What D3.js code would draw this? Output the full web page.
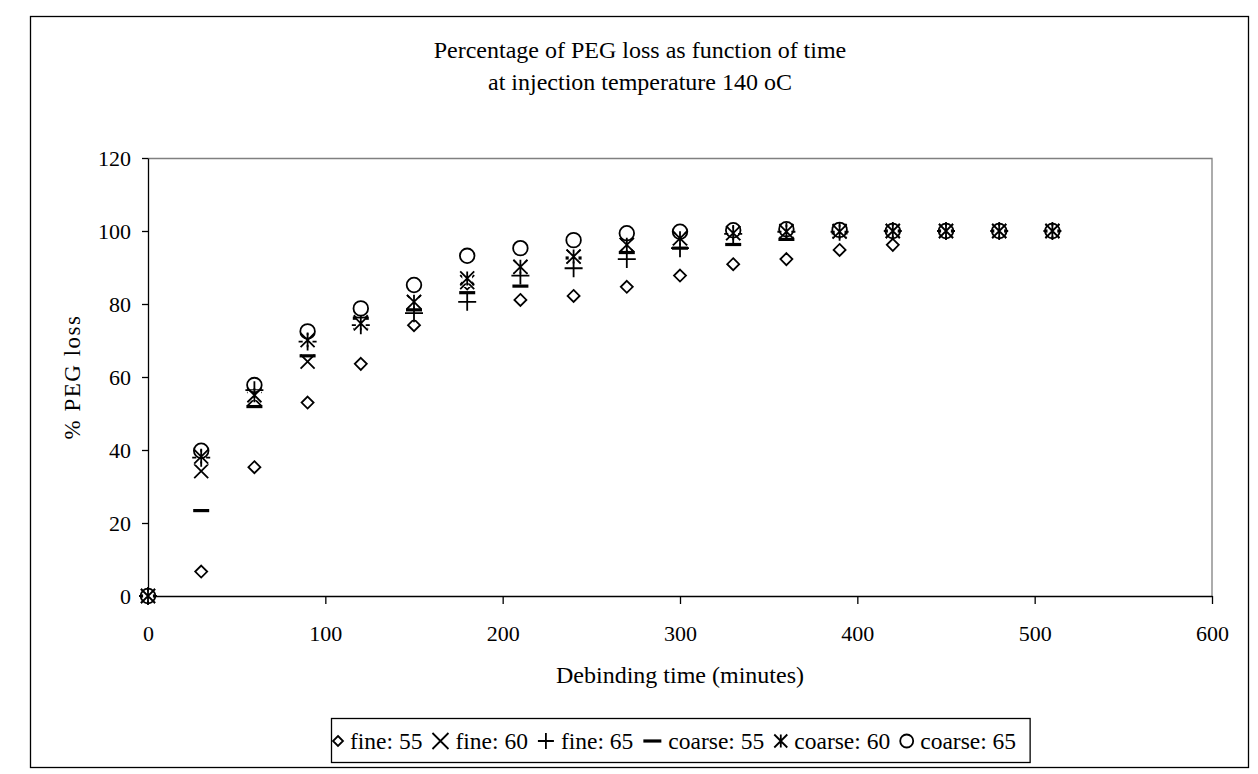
<!DOCTYPE html>
<html>
<head>
<meta charset="utf-8">
<script src="https://cdn.jsdelivr.net/npm/d3@7"></script>
<style>
body { margin: 0; background: #fff; }
text { font-family: "Liberation Serif", "Times New Roman", serif; fill: #000; }
</style>
</head>
<body>
<svg></svg>
<script>
// ----- Data ----- //
var times    = [0, 30, 60, 90, 120, 150, 180, 210, 240, 270, 300, 330, 360, 390, 420, 450, 480, 510];
var fine55   = [0, 6.7, 35.3, 53.0, 63.6, 74.2, 85.6, 81.1, 82.2, 84.7, 87.8, 90.9, 92.3, 94.8, 96.2, 100, 100, 100];
var fine60   = [0, 34.2, 54.0, 64.2, 75.0, 80.5, 86.0, 90.2, 93.0, 96.2, 98.0, 99.4, 100, 100, 100, 100, 100, 100];
var fine65   = [0, 37.9, 56.4, 69.7, 74.2, 77.5, 80.6, 87.8, 89.8, 92.3, 95.3, 99.2, 99.8, 99.8, 100, 100, 100, 100];
var coarse55 = [0, 23.4, 51.9, 65.8, 76.1, 78.4, 83.1, 84.9, 92.6, 94.1, 95.3, 96.3, 97.7, 99.5, 100, 100, 100, 100];
var coarse60 = [0, 38.2, 55.0, 70.1, 74.7, 80.6, 87.0, 90.2, 93.0, 96.2, 98.0, 99.4, 99.8, 99.8, 100, 100, 100, 100];
var coarse65 = [0, 39.8, 57.8, 72.5, 78.8, 85.2, 93.2, 95.3, 97.5, 99.4, 99.8, 100.2, 100.5, 100.3, 100, 100, 100, 100];

var seriesNames  = ["fine: 55", "fine: 60", "fine: 65", "coarse: 55", "coarse: 60", "coarse: 65"];
var seriesValues = [fine55, fine60, fine65, coarse55, coarse60, coarse65];
var seriesShapes = ["diamond", "x", "plus", "dash", "asterisk", "circle"];

var xTicks = [0, 100, 200, 300, 400, 500, 600];
var yTicks = [0, 20, 40, 60, 80, 100, 120];

var titleLines = ["Percentage of PEG loss as function of time", "at injection temperature 140 oC"];

// ----- SVG settings ----- //
var svgWidth = 1258;
var svgHeight = 774;
var margin = {top: 158, right: 46, bottom: 178, left: 148};
var width = svgWidth - margin.left - margin.right;
var height = svgHeight - margin.top - margin.bottom;

var svg = d3.select("svg")
  .attr('width', svgWidth)
  .attr('height', svgHeight);

// outer frame
svg.append('rect')
  .attr('x', 30.5).attr('y', 16.5)
  .attr('width', 1218).attr('height', 751)
  .attr('fill', 'none').attr('stroke', '#000').attr('stroke-width', 1.3);

var scale = {};
scale.x = d3.scaleLinear().domain([0, 600]).range([0, width]);
scale.y = d3.scaleLinear().domain([0, 120]).range([height, 0]);

var g = svg.append('g')
  .attr('transform', translate(margin.left, margin.top));

// ----- Title ----- //
svg.append('text')
  .attr('x', 640).attr('y', 58)
  .attr('text-anchor', 'middle')
  .style('font-size', '24px')
  .text(titleLines[0]);
svg.append('text')
  .attr('x', 640).attr('y', 90)
  .attr('text-anchor', 'middle')
  .style('font-size', '24px')
  .text(titleLines[1]);

// ----- Plot frame (top and right in grey) ----- //
g.append('path')
  .attr('d', 'M0,0.5H' + width + 'V' + height)
  .attr('fill', 'none').attr('stroke', '#808080').attr('stroke-width', 1.3);

// ----- Axes ----- //
var xAxis = g.append('g')
  .attr('transform', translate(0, height))
  .call(d3.axisBottom(scale.x).tickValues(xTicks).tickSize(8).tickPadding(21).tickSizeOuter(0));
var yAxis = g.append('g')
  .call(d3.axisLeft(scale.y).tickValues(yTicks).tickSize(6).tickPadding(11).tickSizeOuter(0));

[xAxis, yAxis].forEach(function(a) {
  a.selectAll('path, line').attr('stroke', '#000').attr('stroke-width', 1.3);
  a.selectAll('text')
    .style('font-family', '"Liberation Serif", serif')
    .style('font-size', '22px')
    .attr('fill', '#000');
});

svg.append('text')
  .attr('x', 680).attr('y', 683)
  .attr('text-anchor', 'middle')
  .style('font-size', '24px')
  .text('Debinding time (minutes)');

svg.append('text')
  .attr('transform', 'translate(80,377) rotate(-90)')
  .attr('text-anchor', 'middle')
  .style('font-size', '23px')
  .style('letter-spacing', '1.5px')
  .text('% PEG loss');

// ----- Markers ----- //
function markerPath(shape, s) {
  var p = d3.path();
  if (shape === 'diamond') {
    p.moveTo(0, -s); p.lineTo(s, 0); p.lineTo(0, s); p.lineTo(-s, 0); p.closePath();
  } else if (shape === 'x') {
    p.moveTo(-s, -s); p.lineTo(s, s); p.moveTo(s, -s); p.lineTo(-s, s);
  } else if (shape === 'plus') {
    p.moveTo(-s, 0); p.lineTo(s, 0); p.moveTo(0, -s); p.lineTo(0, s);
  } else if (shape === 'dash') {
    p.moveTo(-s, 0); p.lineTo(s, 0);
  } else if (shape === 'asterisk') {
    p.moveTo(-s, -s); p.lineTo(s, s); p.moveTo(s, -s); p.lineTo(-s, s);
    p.moveTo(0, -s); p.lineTo(0, s);
  } else if (shape === 'circle') {
    p.moveTo(s, 0); p.arc(0, 0, s, 0, 2 * Math.PI);
  }
  return p.toString();
}

var plotSize   = {diamond: 6, x: 7, plus: 9, dash: 8, asterisk: 7, circle: 7.3};
var legendSize = {diamond: 5, x: 8, plus: 8, dash: 9, asterisk: 6.5, circle: 6.5};

function backBox(shape, s) {
  if (shape === 'x' || shape === 'asterisk') return s * 0.7;
  if (shape === 'plus') return s * 0.75;
  return 0;
}

function drawMarker(sel, shape, s) {
  var b = backBox(shape, s);
  if (b > 0) {
    sel.append('rect')
      .attr('x', -b).attr('y', -b).attr('width', 2 * b).attr('height', 2 * b)
      .attr('fill', '#fff');
  }
  sel.append('path')
    .attr('d', markerPath(shape, s))
    .attr('fill', 'none')
    .attr('stroke', '#000')
    .attr('stroke-width', shape === 'dash' ? 3.2 : 1.8);
}

seriesValues.forEach(function(vals, si) {
  var shape = seriesShapes[si];
  var pts = g.append('g').attr('class', 'series-' + si)
    .selectAll('g')
    .data(times.map(function(t, i) { return {x: t, y: vals[i]}; }))
    .enter()
    .append('g')
    .attr('transform', function(d) { return translate(scale.x(d.x), scale.y(d.y)); });
  pts.each(function() { drawMarker(d3.select(this), shape, plotSize[shape]); });
});

// ----- Legend ----- //
var legend = svg.append('g');
var legendBox = legend.append('rect')
  .attr('x', 331.5).attr('y', 718.5)
  .attr('height', 44)
  .attr('fill', '#fff').attr('stroke', '#000').attr('stroke-width', 1.3);

var lx = 338;
seriesNames.forEach(function(name, i) {
  var shape = seriesShapes[i];
  var s = legendSize[shape];
  var item = legend.append('g').attr('transform', translate(lx, 741));
  drawMarker(item, shape, s);
  var tx = lx + s + 7;
  var txt = legend.append('text')
    .attr('x', tx).attr('y', 749)
    .style('font-size', '23.5px')
    .text(name);
  var end = tx + txt.node().getComputedTextLength();
  if (i < seriesNames.length - 1) {
    lx = end + 10 + legendSize[seriesShapes[i + 1]];
  } else {
    legendBox.attr('width', end + 14 - 331.5);
  }
});

// ==================== Helper functions ==================== //
function translate(x, y) {
  return 'translate(' + x + ',' + y + ')';
}
</script>
</body>
</html>
